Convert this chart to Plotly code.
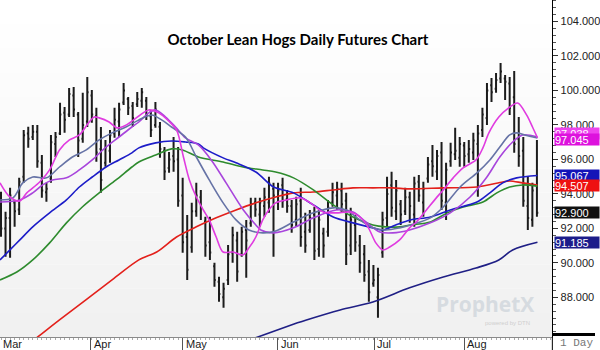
import plotly.graph_objects as go

# ---------------- data ----------------
high = [94.13, 92.97, 94.35, 93.65, 94.93, 97.71, 97.90, 98.00, 98.00, 96.26,
        94.64, 97.42, 97.59, 99.28, 99.04, 100.14, 100.20, 98.75, 99.86, 100.78,
        100.03, 98.99, 97.88, 97.13, 97.71, 98.99, 99.28, 100.43, 99.62, 99.33,
        99.91, 100.14, 99.62, 98.87, 99.33, 98.17, 96.72, 96.43, 97.30, 96.72,
        94.93, 92.78, 93.48, 94.64, 94.23, 92.67, 92.67, 90.00, 89.19, 88.84,
        91.04, 92.09, 91.80, 92.09, 92.49, 93.77, 93.77, 93.77, 94.35, 94.99,
        94.64, 94.64, 94.93, 94.23, 93.65, 93.83, 94.35, 92.90, 93.07, 93.25,
        93.07, 92.03, 93.65, 94.64, 94.70, 94.64, 94.06, 93.19, 92.78, 91.62,
        91.04, 90.17, 89.88, 89.71, 92.96, 94.99, 95.28, 94.81, 93.65, 94.35,
        94.12, 94.99, 95.10, 94.70, 96.14, 96.84, 96.55, 97.01, 95.80, 96.96,
        97.83, 97.30, 97.01, 97.13, 97.54, 98.00, 98.99, 100.43, 100.72, 101.01,
        101.59, 100.90, 100.78, 101.13, 98.46, 97.30, 94.99, 94.64, 97.13]
low = [91.52, 90.36, 90.29, 92.10, 92.78, 94.64, 96.67, 97.13, 95.51, 93.77,
       93.54, 94.64, 96.14, 97.42, 97.54, 98.46, 98.46, 96.14, 96.96, 97.88,
       98.12, 95.86, 94.06, 95.57, 95.80, 97.25, 97.30, 99.16, 98.58, 97.88,
       99.04, 98.99, 98.29, 97.30, 97.83, 96.09, 94.81, 95.22, 95.28, 93.25,
       90.58, 89.01, 90.58, 92.67, 92.49, 90.35, 90.17, 88.61, 87.74, 87.39,
       88.72, 90.00, 88.90, 90.35, 89.13, 92.09, 92.67, 92.09, 92.67, 92.90,
       90.35, 93.07, 93.19, 92.90, 91.74, 92.09, 90.93, 90.58, 91.74, 90.17,
       90.35, 90.29, 91.51, 93.25, 93.07, 92.90, 89.88, 90.46, 90.64, 89.42,
       88.90, 87.74, 88.61, 86.81, 90.29, 92.09, 92.67, 92.49, 92.20, 92.78,
       92.32, 92.09, 93.54, 92.67, 94.64, 94.99, 94.81, 93.07, 92.49, 95.57,
       95.97, 95.57, 95.57, 95.80, 95.97, 93.83, 97.30, 98.00, 99.33, 99.86,
       100.43, 99.45, 98.58, 96.38, 95.57, 93.25, 91.91, 92.09, 92.67]
close = [92.0, 92.6, 93.9, 93.0, 94.7, 97.4, 97.2, 97.6, 95.9, 94.2,
         94.3, 97.0, 97.3, 98.6, 98.3, 99.8, 98.9, 97.1, 98.0, 99.9,
         98.6, 96.4, 94.8, 96.7, 97.4, 98.3, 98.9, 100.0, 99.0, 98.4,
         99.5, 99.9, 98.6, 97.7, 98.9, 96.6, 95.3, 96.0, 95.9, 93.6,
         91.2, 89.6, 93.0, 93.9, 93.2, 91.0, 90.6, 89.0, 88.2, 88.5,
         90.5, 91.6, 89.5, 91.8, 91.3, 93.4, 93.1, 93.5, 93.8, 94.6,
         93.9, 94.2, 93.6, 93.3, 92.2, 93.4, 91.5, 91.0, 92.6, 90.7,
         92.5, 91.0, 93.2, 94.1, 94.3, 93.4, 90.5, 92.5, 91.2, 90.0,
         89.3, 88.3, 89.0, 89.3, 92.5, 94.0, 93.2, 94.2, 92.8, 93.8,
         93.3, 94.6, 93.9, 94.3, 95.7, 95.6, 96.2, 93.6, 95.4, 96.4,
         96.5, 96.9, 96.2, 96.6, 97.1, 97.5, 98.6, 100.0, 99.9, 100.6,
         101.1, 100.5, 99.0, 96.9, 96.2, 93.6, 92.6, 94.2, 92.9]
open_ = [93.5, 92.0, 92.6, 93.5, 93.1, 95.0, 97.5, 97.3, 97.6, 95.8,
         94.1, 94.9, 96.9, 97.5, 98.7, 98.6, 99.7, 98.6, 97.2, 98.2,
         99.7, 98.5, 96.6, 95.8, 96.5, 97.5, 98.2, 99.3, 99.5, 99.1,
         99.2, 99.4, 99.4, 98.5, 98.0, 97.9, 96.5, 95.5, 96.2, 96.0,
         93.9, 91.5, 90.9, 93.0, 93.8, 92.4, 91.2, 89.8, 88.9, 88.0,
         89.0, 90.6, 91.3, 90.5, 91.9, 92.3, 93.5, 92.8, 93.3, 93.5,
         94.3, 93.5, 94.5, 93.7, 93.3, 92.5, 93.6, 91.8, 91.9, 92.8,
         90.8, 91.7, 91.8, 93.5, 93.9, 94.2, 93.6, 91.0, 92.2, 91.0,
         90.5, 89.5, 88.8, 88.0, 90.6, 92.6, 94.5, 93.0, 93.4, 93.0,
         93.8, 92.8, 94.7, 93.5, 94.9, 95.9, 95.3, 96.4, 93.5, 95.9,
         96.3, 96.1, 96.8, 96.3, 96.4, 96.9, 97.7, 98.4, 100.3, 100.1,
         100.7, 100.7, 100.4, 99.6, 97.2, 96.5, 93.3, 92.5, 94.5]

# moving-average lines, sampled as (bar index, price)
ma_fast = [(-0.22, 94.64), (1.97, 93.82), (4.15, 93.59), (5.68, 94.06), (8.52, 94.69),
           (10.70, 95.39), (12.88, 96.55), (15.07, 97.13), (17.25, 97.42), (19.43, 98.17),
           (20.52, 98.46), (21.62, 98.41), (23.80, 98.17), (25.55, 97.83), (27.51, 97.99),
           (30.35, 98.52), (32.53, 98.87), (34.72, 98.70), (36.90, 98.23), (38.65, 97.71),
           (40.17, 96.14), (41.48, 94.81), (43.01, 93.82), (44.54, 93.07), (45.85, 92.49),
           (47.38, 91.50), (48.91, 90.63), (51.09, 90.63), (53.28, 90.46), (54.59, 90.87),
           (56.11, 91.50), (57.64, 92.49), (58.95, 93.07), (60.48, 93.48), (62.88, 93.65),
           (65.94, 93.77), (68.12, 93.48), (70.96, 92.95), (73.80, 92.90), (76.86, 92.95),
           (79.04, 92.66), (80.79, 92.09), (82.53, 91.16), (84.06, 90.75), (85.59, 90.92),
           (87.77, 91.33), (89.96, 92.03), (91.48, 92.37), (93.67, 93.07), (95.85, 93.77),
           (97.38, 94.23), (99.56, 94.93), (101.75, 95.51), (104.59, 95.97), (106.11, 96.67),
           (107.42, 97.54), (109.61, 98.46), (111.79, 98.99), (113.76, 99.27), (115.72, 98.58),
           (117.03, 97.88), (118.12, 97.25)]
ma_slate = [(-0.22, 93.65), (2.62, 93.77), (4.80, 94.64), (6.99, 94.98), (10.04, 94.93),
            (12.88, 95.56), (15.72, 96.14), (18.78, 96.55), (21.62, 97.13), (24.45, 97.54),
            (27.51, 97.88), (30.35, 98.29), (33.19, 98.58), (35.37, 98.29), (37.55, 97.88),
            (40.61, 97.30), (43.01, 96.14), (45.85, 94.81), (48.91, 93.48), (51.75, 92.49),
            (54.59, 91.91), (57.64, 91.74), (60.48, 91.85), (64.41, 92.37), (68.78, 92.90),
            (73.14, 93.19), (75.98, 93.07), (79.04, 92.49), (81.88, 92.03), (84.72, 91.91),
            (87.77, 92.03), (90.17, 92.20), (94.54, 92.61), (97.38, 93.24), (101.09, 94.40),
            (104.80, 95.22), (107.64, 95.97), (109.83, 96.72), (112.01, 97.42), (113.54, 97.54),
            (115.28, 97.42), (118.12, 97.25)]
ma_violet = [(-0.22, 93.53), (4.15, 93.65), (6.99, 94.06), (9.17, 94.52), (11.35, 94.81),
             (14.41, 94.93), (17.25, 95.39), (20.09, 95.97), (23.14, 96.72), (25.98, 97.30),
             (28.82, 97.88), (30.35, 98.17), (32.53, 98.70), (34.06, 98.87), (36.24, 98.46),
             (38.43, 97.88), (40.61, 97.25), (43.45, 96.84), (46.29, 95.97), (49.56, 94.64),
             (53.28, 93.10), (56.11, 92.20), (57.21, 91.91), (60.04, 91.74), (64.41, 92.03),
             (68.78, 92.61), (73.80, 93.07), (77.51, 92.95), (80.35, 92.37), (83.41, 91.79),
             (86.24, 91.74), (89.96, 91.91), (94.54, 92.32), (98.91, 92.90), (103.28, 93.82),
             (106.99, 94.98), (109.83, 96.14), (112.66, 97.01), (114.85, 97.42), (118.12, 97.30)]
ma_blue = [(-0.22, 90.17), (1.97, 90.75), (4.15, 91.33), (6.99, 92.09), (10.70, 92.90),
           (14.41, 93.65), (17.25, 94.40), (20.09, 94.98), (23.14, 95.56), (25.98, 95.97),
           (28.82, 96.38), (30.35, 96.67), (34.06, 96.96), (37.55, 97.07), (40.61, 97.01),
           (43.45, 96.90), (44.54, 96.67), (48.91, 96.09), (51.75, 95.80), (56.11, 95.27),
           (60.04, 94.40), (64.41, 94.06), (68.78, 93.36), (73.14, 92.66), (77.51, 92.32),
           (81.88, 92.03), (84.06, 91.91), (86.90, 92.20), (90.17, 92.49), (94.54, 92.66),
           (98.91, 93.07), (104.80, 93.53), (107.64, 94.06), (110.48, 94.64), (113.54, 94.93),
           (118.12, 95.07)]
ma_green = [(-0.22, 89.01), (3.49, 89.47), (6.99, 90.17), (10.70, 91.16), (14.41, 92.32),
            (17.90, 93.24), (21.62, 94.06), (25.33, 94.81), (28.82, 95.56), (30.35, 95.85),
            (34.06, 96.26), (37.55, 96.61), (39.96, 96.55), (43.45, 96.14), (48.91, 95.85),
            (53.28, 95.56), (57.64, 95.39), (60.48, 95.27), (64.41, 94.93), (68.78, 94.23),
            (73.14, 93.36), (77.51, 92.66), (81.88, 92.20), (84.72, 92.09), (87.77, 92.09),
            (90.17, 92.20), (94.54, 92.37), (98.25, 92.90), (101.75, 93.24), (106.11, 93.53),
            (109.17, 94.06), (112.01, 94.40), (114.85, 94.52), (118.12, 94.45)]
ma_red = [(-0.22, 84.00), (8.08, 85.70), (12.88, 86.69), (24.45, 89.01), (30.35, 90.17),
          (34.28, 90.63), (38.65, 91.50), (43.01, 92.09), (47.38, 92.61), (51.75, 93.07),
          (56.11, 93.48), (60.48, 93.82), (64.41, 94.06), (68.78, 94.11), (73.14, 94.23),
          (77.51, 94.35), (81.88, 94.35), (86.24, 94.35), (89.96, 94.29), (97.38, 94.35),
          (104.80, 94.40), (110.48, 94.69), (112.01, 94.75), (114.85, 94.64), (118.12, 94.51)]
ma_navy = [(-0.22, 80.40), (56.55, 85.70), (65.28, 86.52), (67.25, 86.69), (74.67, 87.27),
           (81.88, 87.73), (89.96, 88.55), (97.38, 89.18), (104.59, 89.70), (109.61, 90.17),
           (112.66, 90.75), (118.12, 91.19)]

month_labels = ["Mar", "Apr", "May", "Jun", "Jul", "Aug"]
month_idx = [-0.22, 19.8, 40.0, 60.9, 82.2, 102.0]

y_ticks = [88, 90, 92, 94, 96, 98, 100, 102, 104]

# price flags on the right axis: (text, value, colour)
flags = [("97.038", 97.50, "#ee44ee"),
         ("97.045", 97.14, "#dd11dd"),
         ("95.067", 95.067, "#1414b8"),
         ("94.507", 94.507, "#ee1111"),
         ("92.900", 92.900, "#111111"),
         ("91.185", 91.185, "#1c1c8a")]

# ---------------- figure ----------------
X_END = 557 / 600
Y_BOT = 13 / 350

fig = go.Figure()

fig.add_trace(go.Ohlc(
    x=list(range(len(close))), open=open_, high=high, low=low, close=close,
    increasing=dict(line=dict(color="#1c1c1c", width=2)),
    decreasing=dict(line=dict(color="#1c1c1c", width=2)),
    tickwidth=0.3, hoverinfo="skip", showlegend=False))

lines = [(ma_navy, "#1f1f85"), (ma_red, "#e3201b"), (ma_green, "#2e8b2e"),
         (ma_blue, "#1c1cc8"), (ma_violet, "#a845dc"), (ma_slate, "#6673a6"),
         (ma_fast, "#e03be0")]
for pts, col in lines:
    fig.add_trace(go.Scatter(
        x=[p[0] for p in pts], y=[p[1] for p in pts], mode="lines",
        line=dict(color=col, width=1.6, shape="spline", smoothing=0.9),
        hoverinfo="skip", showlegend=False))

# subtle vertical gradient of the plotting area
shapes = []
nb = 14
for k in range(nb):
    t = k / (nb - 1)
    g = int(round(255 - 14 * (1 - t)))
    shapes.append(dict(type="rect", xref="paper", yref="paper", layer="below",
                       x0=0, x1=X_END,
                       y0=Y_BOT + (1 - Y_BOT) * k / nb, y1=Y_BOT + (1 - Y_BOT) * (k + 1) / nb,
                       line=dict(width=0), fillcolor=f"rgb({g},{g},{g})"))
# axis line continuing into the date strip, and the block under the price scale
shapes.append(dict(type="line", xref="paper", yref="paper", x0=X_END, x1=X_END,
                   y0=0, y1=Y_BOT, line=dict(color="#000", width=1)))
shapes.append(dict(type="line", xref="paper", yref="paper", x0=X_END, x1=1,
                   y0=(350 - 334.5) / 350, y1=(350 - 334.5) / 350,
                   line=dict(color="#000", width=3)))

annotations = []
for lab, xi in zip(month_labels, month_idx):
    annotations.append(dict(text=lab, x=xi, xref="x", y=(350 - 343.5) / 350,
                            yref="paper", xanchor="left", yanchor="middle", xshift=1,
                            showarrow=False,
                            font=dict(family="Liberation Sans", size=11, color="#1a1a1a")))
annotations.append(dict(text="1 Day", x=563 / 600, xref="paper", y=(350 - 343) / 350,
                        yref="paper", xanchor="left", yanchor="middle", showarrow=False,
                        font=dict(family="Liberation Mono", size=11, color="#777")))
annotations.append(dict(text="<b>ProphetX</b>", x=489 / 600, xref="paper", y=(350 - 304) / 350,
                        yref="paper", xanchor="center", yanchor="middle", showarrow=False,
                        font=dict(family="Open Sans", size=21, color="#d6dbe0")))
annotations.append(dict(text="powered by DTN", x=536 / 600, xref="paper", y=(350 - 323) / 350,
                        yref="paper", xanchor="right", yanchor="middle", showarrow=False,
                        font=dict(family="Liberation Sans", size=6, color="#cfcfcf")))
for txt, val, col in flags:
    annotations.append(dict(text=txt, x=559 / 600, xref="paper", y=val, yref="y",
                            xanchor="left", yanchor="middle", showarrow=False,
                            bgcolor=col, width=44, height=11, align="left", borderpad=0,
                            font=dict(family="Liberation Sans", size=11, color="white")))

fig.update_layout(
    width=600, height=350, margin=dict(l=0, r=0, t=0, b=0),
    paper_bgcolor="white", plot_bgcolor="white", showlegend=False,
    title=dict(text="<b>October Lean Hogs Daily Futures Chart</b>",
               x=298 / 600, xref="container", xanchor="center",
               y=1 - 40 / 350, yref="container", yanchor="middle",
               font=dict(family="Lato", size=15, color="#000")),
    xaxis=dict(domain=[0, X_END], range=[-0.22, 121.4], showgrid=False, zeroline=False,
               showline=True, linecolor="#8a8a8a", linewidth=1,
               tickmode="array", tickvals=month_idx[1:], showticklabels=False,
               ticks="outside", ticklen=13, tickcolor="#555", tickwidth=1,
               minor=dict(dtick=1, tick0=0, ticks="outside", ticklen=2,
                          tickcolor="#aaa", showgrid=False),
               rangeslider=dict(visible=False), fixedrange=True),
    yaxis=dict(domain=[Y_BOT, 1], range=[85.70, 105.246], side="right",
               showgrid=False, zeroline=False, showline=True, linecolor="#000", linewidth=1,
               tickmode="array", tickvals=y_ticks, ticktext=[f"{v:.3f}" for v in y_ticks],
               ticks="outside", ticklen=5, tickcolor="#333",
               tickfont=dict(family="Liberation Sans", size=11, color="#222"),
               minor=dict(dtick=0.4, tick0=0, ticks="outside", ticklen=3, tickcolor="#555",
                          showgrid=False),
               fixedrange=True),
    shapes=shapes, annotations=annotations)

fig.write_html("out.html")
